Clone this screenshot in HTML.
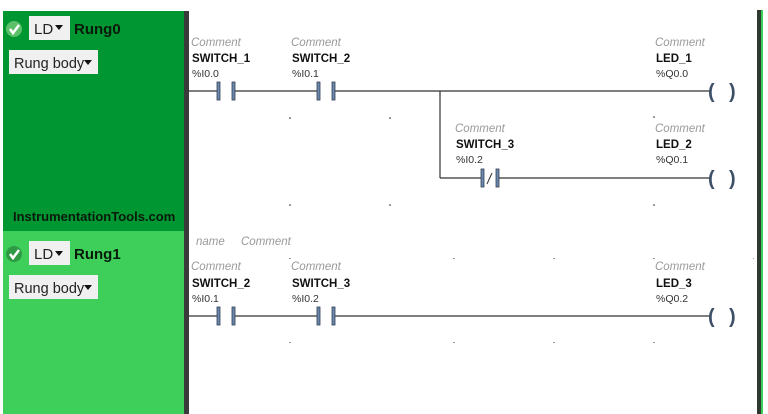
<!DOCTYPE html>
<html><head><style>
html,body{margin:0;padding:0;background:#fff;}
svg{display:block;}
text{font-family:"Liberation Sans",sans-serif;}
.c{font-size:11.5px;font-style:italic;fill:#9a9a9a;}
.n{font-size:11.5px;font-weight:bold;fill:#111;}
.a{font-size:10.5px;fill:#333;}
</style></head><body>
<svg width="768" height="414" viewBox="0 0 768 414" xmlns="http://www.w3.org/2000/svg">
<rect x="0" y="0" width="768" height="414" fill="#fff"/>
<rect x="3" y="11" width="182" height="220" fill="#009632"/>
<rect x="3" y="231" width="182" height="183" fill="#3ecf5a"/>
<rect x="184" y="11" width="5" height="403" fill="#3a3a3a"/>
<rect x="757" y="10" width="4" height="404" fill="#2e3a30"/>
<rect x="761" y="10" width="2" height="404" fill="#3ecf5a"/>
<circle cx="14" cy="29" r="8" fill="#5cc06a"/>
<path d="M10 29 l3 4 l6 -8" stroke="#fff" stroke-width="2.5" fill="none"/>
<rect x="29" y="16" width="41" height="24" fill="#f0f0f0"/>
<text x="34" y="34" font-size="15" fill="#222">LD</text>
<path d="M55 25 h8 l-4 5z" fill="#111"/>
<text x="74" y="34" font-size="15" font-weight="bold" fill="#0a1a0a">Rung0</text>
<rect x="9" y="50" width="89" height="24" fill="#f0f0f0"/>
<text x="14" y="68" font-size="14.5" fill="#222">Rung body</text>
<path d="M84 60 h8 l-4 5z" fill="#111"/>
<text x="13" y="221" font-size="13" font-weight="bold" fill="#0a1a0a">InstrumentationTools.com</text>
<circle cx="14" cy="254" r="8" fill="#2e9a44"/>
<path d="M10 254 l3 4 l6 -8" stroke="#fff" stroke-width="2.5" fill="none"/>
<rect x="29" y="241" width="41" height="24" fill="#f0f0f0"/>
<text x="34" y="259" font-size="15" fill="#222">LD</text>
<path d="M55 251 h8 l-4 5z" fill="#111"/>
<text x="74" y="259" font-size="15" font-weight="bold" fill="#0a1a0a">Rung1</text>
<rect x="9" y="275" width="89" height="24" fill="#f0f0f0"/>
<text x="14" y="293" font-size="14.5" fill="#222">Rung body</text>
<path d="M84 285 h8 l-4 5z" fill="#111"/>

<g stroke="#333" stroke-width="1.2" fill="none">
<line x1="189" y1="91" x2="710" y2="91"/>
<line x1="440" y1="91" x2="440" y2="178"/>
<line x1="440" y1="178" x2="710" y2="178"/>
<line x1="189" y1="316" x2="710" y2="316"/>
</g>
<g fill="#fff">
<rect x="219" y="85" width="14" height="12"/><rect x="319" y="85" width="14" height="12"/>
<rect x="483" y="172" width="14" height="12"/>
<rect x="219" y="310" width="14" height="12"/><rect x="319" y="310" width="14" height="12"/>
</g>
<g fill="#6c88aa" stroke="#2f3f55" stroke-width="0.8">
<rect x="217" y="82" width="3" height="18"/><rect x="232" y="82" width="3" height="18"/>
<rect x="317" y="82" width="3" height="18"/><rect x="332" y="82" width="3" height="18"/>
<rect x="481" y="169" width="3" height="18"/><rect x="496" y="169" width="3" height="18"/>
<rect x="217" y="307" width="3" height="18"/><rect x="232" y="307" width="3" height="18"/>
<rect x="317" y="307" width="3" height="18"/><rect x="332" y="307" width="3" height="18"/>
</g>
<line x1="487" y1="184" x2="492" y2="173" stroke="#333" stroke-width="1"/>
<g fill="#3d5068" font-size="20" font-weight="bold">
<text x="708" y="98">(</text><text x="729" y="98">)</text>
<text x="708" y="185">(</text><text x="729" y="185">)</text>
<text x="708" y="323">(</text><text x="729" y="323">)</text>
</g>

<text class="c" x="191" y="46">Comment</text><text class="n" x="192" y="62">SWITCH_1</text><text class="a" x="192" y="77">%I0.0</text>
<text class="c" x="291" y="46">Comment</text><text class="n" x="292" y="62">SWITCH_2</text><text class="a" x="292" y="77">%I0.1</text>
<text class="c" x="655" y="46">Comment</text><text class="n" x="656" y="62">LED_1</text><text class="a" x="656" y="77">%Q0.0</text>
<text class="c" x="455" y="132">Comment</text><text class="n" x="456" y="148">SWITCH_3</text><text class="a" x="456" y="163">%I0.2</text>
<text class="c" x="655" y="132">Comment</text><text class="n" x="656" y="148">LED_2</text><text class="a" x="656" y="163">%Q0.1</text>
<text class="c" x="196" y="245">name</text><text class="c" x="241" y="245">Comment</text>
<text class="c" x="191" y="270">Comment</text><text class="n" x="192" y="287">SWITCH_2</text><text class="a" x="192" y="302">%I0.1</text>
<text class="c" x="291" y="270">Comment</text><text class="n" x="292" y="287">SWITCH_3</text><text class="a" x="292" y="302">%I0.2</text>
<text class="c" x="655" y="270">Comment</text><text class="n" x="656" y="287">LED_3</text><text class="a" x="656" y="302">%Q0.2</text>

<g fill="#999">
<rect x="289" y="117" width="2" height="2"/><rect x="389" y="117" width="2" height="2"/><rect x="653" y="116" width="2" height="2"/>
<rect x="289" y="204" width="2" height="2"/><rect x="389" y="204" width="2" height="2"/><rect x="653" y="204" width="2" height="2"/>
<rect x="289" y="258" width="2" height="1"/><rect x="453" y="258" width="2" height="1"/><rect x="553" y="258" width="2" height="1"/><rect x="653" y="258" width="2" height="1"/><rect x="753" y="258" width="1" height="1"/>
<rect x="289" y="342" width="2" height="1"/><rect x="453" y="342" width="2" height="1"/><rect x="553" y="342" width="2" height="1"/><rect x="653" y="342" width="2" height="1"/>
</g>
</svg>
</body></html>
